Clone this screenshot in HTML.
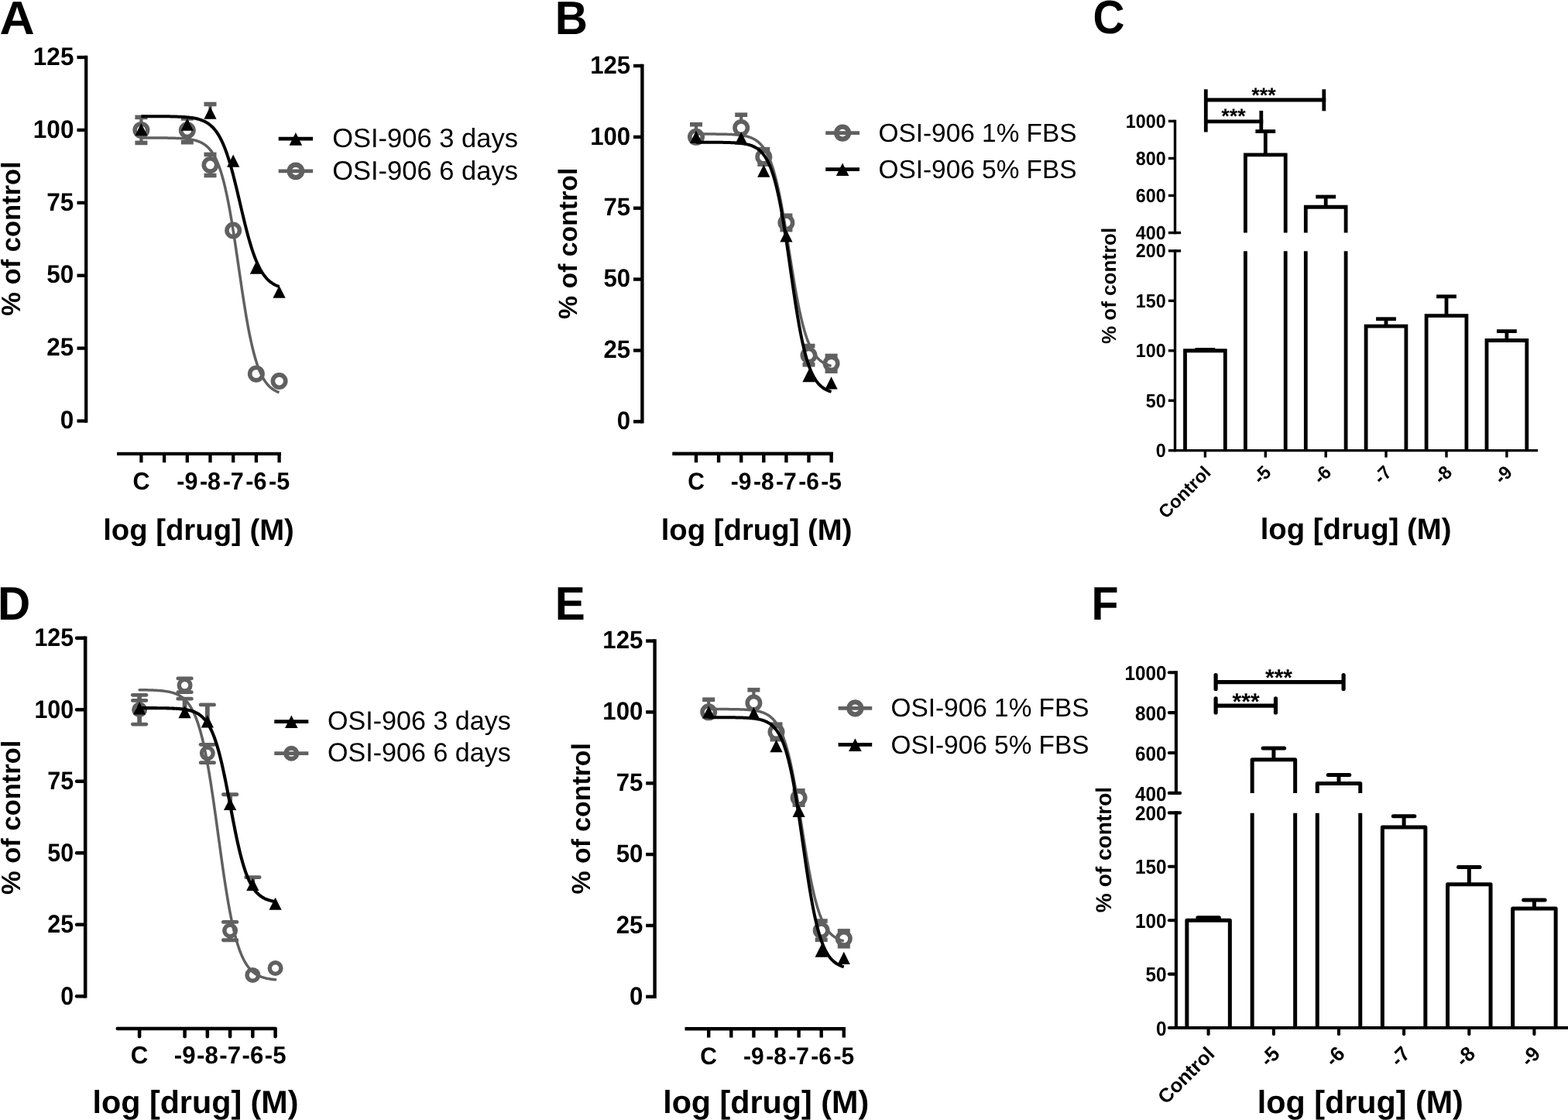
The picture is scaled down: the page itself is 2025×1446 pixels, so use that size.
<!DOCTYPE html>
<html lang="en"><head><meta charset="utf-8"><title>Figure</title>
<style>html,body{margin:0;padding:0;background:#fff;}svg{display:block;}</style></head>
<body>
<svg width="2025" height="1446" viewBox="0 0 2025 1446" font-family='"Liberation Sans", Arial, Helvetica, sans-serif' text-rendering="geometricPrecision">
<rect width="2025" height="1446" fill="#fff"/>
<line x1="111.2" y1="71.85" x2="111.2" y2="545.65" stroke="#000" stroke-width="4.3" stroke-linecap="butt"/>
<line x1="99.5" y1="543.5" x2="111.2" y2="543.5" stroke="#000" stroke-width="4.3" stroke-linecap="butt"/>
<text x="0" y="0" font-size="31.5" font-weight="bold" text-anchor="end" fill="#000" transform="translate(95.4 553.2) scale(1 1.04)">0</text>
<line x1="99.5" y1="449.6" x2="111.2" y2="449.6" stroke="#000" stroke-width="4.3" stroke-linecap="butt"/>
<text x="0" y="0" font-size="31.5" font-weight="bold" text-anchor="end" fill="#000" transform="translate(95.4 459.3) scale(1 1.04)">25</text>
<line x1="99.5" y1="355.7" x2="111.2" y2="355.7" stroke="#000" stroke-width="4.3" stroke-linecap="butt"/>
<text x="0" y="0" font-size="31.5" font-weight="bold" text-anchor="end" fill="#000" transform="translate(95.4 365.4) scale(1 1.04)">50</text>
<line x1="99.5" y1="261.8" x2="111.2" y2="261.8" stroke="#000" stroke-width="4.3" stroke-linecap="butt"/>
<text x="0" y="0" font-size="31.5" font-weight="bold" text-anchor="end" fill="#000" transform="translate(95.4 271.5) scale(1 1.04)">75</text>
<line x1="99.5" y1="167.9" x2="111.2" y2="167.9" stroke="#000" stroke-width="4.3" stroke-linecap="butt"/>
<text x="0" y="0" font-size="31.5" font-weight="bold" text-anchor="end" fill="#000" transform="translate(95.4 177.6) scale(1 1.04)">100</text>
<line x1="99.5" y1="74" x2="111.2" y2="74" stroke="#000" stroke-width="4.3" stroke-linecap="butt"/>
<text x="0" y="0" font-size="31.5" font-weight="bold" text-anchor="end" fill="#000" transform="translate(95.4 83.7) scale(1 1.04)">125</text>
<line x1="151" y1="585.8" x2="363" y2="585.8" stroke="#000" stroke-width="4.3" stroke-linecap="butt"/>
<line x1="182.4" y1="585.8" x2="182.4" y2="597.2" stroke="#000" stroke-width="4.3" stroke-linecap="butt"/>
<line x1="212.1" y1="585.8" x2="212.1" y2="597.2" stroke="#000" stroke-width="4.3" stroke-linecap="butt"/>
<line x1="241.8" y1="585.8" x2="241.8" y2="597.2" stroke="#000" stroke-width="4.3" stroke-linecap="butt"/>
<line x1="271.5" y1="585.8" x2="271.5" y2="597.2" stroke="#000" stroke-width="4.3" stroke-linecap="butt"/>
<line x1="301.2" y1="585.8" x2="301.2" y2="597.2" stroke="#000" stroke-width="4.3" stroke-linecap="butt"/>
<line x1="330.9" y1="585.8" x2="330.9" y2="597.2" stroke="#000" stroke-width="4.3" stroke-linecap="butt"/>
<line x1="360.6" y1="585.8" x2="360.6" y2="597.2" stroke="#000" stroke-width="4.3" stroke-linecap="butt"/>
<text x="0" y="0" font-size="30.5" font-weight="bold" text-anchor="middle" fill="#000" transform="translate(182.4 631.8) scale(1 1.04)">C</text>
<text x="0" y="0" font-size="30.5" font-weight="bold" text-anchor="middle" fill="#000" transform="translate(241.8 631.8) scale(1 1.04)">-9</text>
<text x="0" y="0" font-size="30.5" font-weight="bold" text-anchor="middle" fill="#000" transform="translate(271.5 631.8) scale(1 1.04)">-8</text>
<text x="0" y="0" font-size="30.5" font-weight="bold" text-anchor="middle" fill="#000" transform="translate(301.2 631.8) scale(1 1.04)">-7</text>
<text x="0" y="0" font-size="30.5" font-weight="bold" text-anchor="middle" fill="#000" transform="translate(330.9 631.8) scale(1 1.04)">-6</text>
<text x="0" y="0" font-size="30.5" font-weight="bold" text-anchor="middle" fill="#000" transform="translate(360.6 631.8) scale(1 1.04)">-5</text>
<text x="256.5" y="696.8" font-size="38.3" font-weight="bold" text-anchor="middle" fill="#000">log [drug] (M)</text>
<text x="25.8" y="308" font-size="34.5" font-weight="bold" text-anchor="middle" fill="#000" transform="rotate(-90 25.8 308)">% of control</text>
<text x="0" y="0" font-size="58.5" font-weight="bold" text-anchor="start" fill="#000" transform="translate(-0.6 43.8) scale(1.07 1.04)">A</text>
<line x1="182.4" y1="167.9" x2="182.4" y2="151.37" stroke="#606060" stroke-width="4.2" stroke-linecap="butt"/>
<line x1="174.4" y1="151.37" x2="190.4" y2="151.37" stroke="#606060" stroke-width="5.6" stroke-linecap="butt"/>
<line x1="182.4" y1="167.9" x2="182.4" y2="184.43" stroke="#606060" stroke-width="4.2" stroke-linecap="butt"/>
<line x1="174.4" y1="184.43" x2="190.4" y2="184.43" stroke="#606060" stroke-width="5.6" stroke-linecap="butt"/>
<line x1="241.8" y1="168.28" x2="241.8" y2="152.88" stroke="#606060" stroke-width="4.2" stroke-linecap="butt"/>
<line x1="233.8" y1="152.88" x2="249.8" y2="152.88" stroke="#606060" stroke-width="5.6" stroke-linecap="butt"/>
<line x1="241.8" y1="168.28" x2="241.8" y2="183.68" stroke="#606060" stroke-width="4.2" stroke-linecap="butt"/>
<line x1="233.8" y1="183.68" x2="249.8" y2="183.68" stroke="#606060" stroke-width="5.6" stroke-linecap="butt"/>
<line x1="271.5" y1="212.97" x2="271.5" y2="199.45" stroke="#606060" stroke-width="4.2" stroke-linecap="butt"/>
<line x1="263.5" y1="199.45" x2="279.5" y2="199.45" stroke="#606060" stroke-width="5.6" stroke-linecap="butt"/>
<line x1="271.5" y1="212.97" x2="271.5" y2="226.49" stroke="#606060" stroke-width="4.2" stroke-linecap="butt"/>
<line x1="263.5" y1="226.49" x2="279.5" y2="226.49" stroke="#606060" stroke-width="5.6" stroke-linecap="butt"/>
<line x1="271.5" y1="145.74" x2="271.5" y2="134.47" stroke="#606060" stroke-width="4.2" stroke-linecap="butt"/>
<line x1="263.5" y1="134.47" x2="279.5" y2="134.47" stroke="#606060" stroke-width="5.6" stroke-linecap="butt"/>
<circle cx="182.4" cy="167.9" r="8.2" fill="#fff" stroke="#606060" stroke-width="5.6"/>
<circle cx="241.8" cy="168.28" r="8.2" fill="#fff" stroke="#606060" stroke-width="5.6"/>
<circle cx="271.5" cy="212.97" r="8.2" fill="#fff" stroke="#606060" stroke-width="5.6"/>
<circle cx="301.2" cy="297.48" r="8.2" fill="#fff" stroke="#606060" stroke-width="5.6"/>
<circle cx="330.9" cy="482.65" r="8.2" fill="#fff" stroke="#606060" stroke-width="5.6"/>
<circle cx="360.6" cy="492.04" r="8.2" fill="#fff" stroke="#606060" stroke-width="5.6"/>
<path d="M182.4 177.96 L183.52 177.96 L184.64 177.97 L185.76 177.97 L186.88 177.97 L188 177.97 L189.12 177.97 L190.25 177.97 L191.37 177.97 L192.49 177.98 L193.61 177.98 L194.73 177.98 L195.85 177.98 L196.97 177.99 L198.09 177.99 L199.21 177.99 L200.33 178 L201.45 178 L202.57 178.01 L203.69 178.01 L204.82 178.02 L205.94 178.03 L207.06 178.03 L208.18 178.04 L209.3 178.05 L210.42 178.06 L211.54 178.07 L212.66 178.08 L213.78 178.09 L214.9 178.11 L216.02 178.12 L217.14 178.14 L218.26 178.15 L219.38 178.17 L220.51 178.2 L221.63 178.22 L222.75 178.24 L223.87 178.27 L224.99 178.3 L226.11 178.34 L227.23 178.38 L228.35 178.42 L229.47 178.46 L230.59 178.51 L231.71 178.56 L232.83 178.62 L233.95 178.69 L235.08 178.76 L236.2 178.84 L237.32 178.92 L238.44 179.02 L239.56 179.12 L240.68 179.23 L241.8 179.35 L242.92 179.49 L244.04 179.64 L245.16 179.8 L246.28 179.97 L247.4 180.17 L248.52 180.38 L249.65 180.61 L250.77 180.87 L251.89 181.15 L253.01 181.46 L254.13 181.79 L255.25 182.16 L256.37 182.56 L257.49 183 L258.61 183.48 L259.73 184 L260.85 184.57 L261.97 185.2 L263.09 185.88 L264.22 186.63 L265.34 187.45 L266.46 188.34 L267.58 189.31 L268.7 190.36 L269.82 191.52 L270.94 192.77 L272.06 194.13 L273.18 195.61 L274.3 197.22 L275.42 198.97 L276.54 200.86 L277.66 202.91 L278.78 205.13 L279.91 207.52 L281.03 210.11 L282.15 212.89 L283.27 215.89 L284.39 219.1 L285.51 222.55 L286.63 226.23 L287.75 230.17 L288.87 234.37 L289.99 238.83 L291.11 243.55 L292.23 248.55 L293.35 253.83 L294.48 259.37 L295.6 265.18 L296.72 271.26 L297.84 277.58 L298.96 284.14 L300.08 290.93 L301.2 297.92 L302.32 305.1 L303.44 312.43 L304.56 319.89 L305.68 327.46 L306.8 335.1 L307.92 342.78 L309.05 350.46 L310.17 358.12 L311.29 365.73 L312.41 373.24 L313.53 380.64 L314.65 387.88 L315.77 394.96 L316.89 401.84 L318.01 408.51 L319.13 414.95 L320.25 421.13 L321.37 427.07 L322.49 432.73 L323.62 438.13 L324.74 443.25 L325.86 448.1 L326.98 452.69 L328.1 457 L329.22 461.05 L330.34 464.85 L331.46 468.41 L332.58 471.73 L333.7 474.82 L334.82 477.7 L335.94 480.37 L337.06 482.85 L338.18 485.15 L339.31 487.27 L340.43 489.23 L341.55 491.05 L342.67 492.72 L343.79 494.25 L344.91 495.67 L346.03 496.97 L347.15 498.17 L348.27 499.27 L349.39 500.28 L350.51 501.2 L351.63 502.05 L352.75 502.83 L353.88 503.54 L355 504.19 L356.12 504.79 L357.24 505.34 L358.36 505.84 L359.48 506.29 L360.6 506.71" fill="none" stroke="#606060" stroke-width="3.5" stroke-linecap="butt" stroke-linejoin="round"/>
<polygon points="182.4,159.05 174.3,175.25 190.5,175.25" fill="#000"/>
<polygon points="241.8,152.66 233.7,168.86 249.9,168.86" fill="#000"/>
<polygon points="271.5,137.64 263.4,153.84 279.6,153.84" fill="#000"/>
<polygon points="301.2,199.61 293.1,215.81 309.3,215.81" fill="#000"/>
<polygon points="330.9,337.46 322.8,353.66 339,353.66" fill="#000"/>
<polygon points="360.6,368.63 352.5,384.83 368.7,384.83" fill="#000"/>
<path d="M182.4 150.16 L183.52 150.16 L184.64 150.16 L185.76 150.16 L186.88 150.16 L188 150.16 L189.12 150.17 L190.25 150.17 L191.37 150.17 L192.49 150.17 L193.61 150.17 L194.73 150.18 L195.85 150.18 L196.97 150.18 L198.09 150.19 L199.21 150.19 L200.33 150.2 L201.45 150.2 L202.57 150.21 L203.69 150.21 L204.82 150.22 L205.94 150.22 L207.06 150.23 L208.18 150.24 L209.3 150.25 L210.42 150.26 L211.54 150.27 L212.66 150.28 L213.78 150.29 L214.9 150.3 L216.02 150.32 L217.14 150.33 L218.26 150.35 L219.38 150.37 L220.51 150.39 L221.63 150.41 L222.75 150.43 L223.87 150.46 L224.99 150.49 L226.11 150.52 L227.23 150.55 L228.35 150.59 L229.47 150.63 L230.59 150.67 L231.71 150.72 L232.83 150.77 L233.95 150.82 L235.08 150.88 L236.2 150.95 L237.32 151.02 L238.44 151.1 L239.56 151.19 L240.68 151.28 L241.8 151.38 L242.92 151.49 L244.04 151.61 L245.16 151.74 L246.28 151.88 L247.4 152.03 L248.52 152.2 L249.65 152.38 L250.77 152.58 L251.89 152.79 L253.01 153.02 L254.13 153.28 L255.25 153.55 L256.37 153.85 L257.49 154.17 L258.61 154.53 L259.73 154.91 L260.85 155.33 L261.97 155.78 L263.09 156.26 L264.22 156.79 L265.34 157.37 L266.46 157.99 L267.58 158.66 L268.7 159.39 L269.82 160.18 L270.94 161.03 L272.06 161.95 L273.18 162.94 L274.3 164.01 L275.42 165.16 L276.54 166.41 L277.66 167.74 L278.78 169.18 L279.91 170.72 L281.03 172.37 L282.15 174.14 L283.27 176.03 L284.39 178.06 L285.51 180.21 L286.63 182.5 L287.75 184.94 L288.87 187.53 L289.99 190.27 L291.11 193.16 L292.23 196.21 L293.35 199.41 L294.48 202.77 L295.6 206.29 L296.72 209.97 L297.84 213.79 L298.96 217.75 L300.08 221.86 L301.2 226.09 L302.32 230.44 L303.44 234.89 L304.56 239.44 L305.68 244.08 L306.8 248.77 L307.92 253.52 L309.05 258.29 L310.17 263.09 L311.29 267.88 L312.41 272.65 L313.53 277.38 L314.65 282.06 L315.77 286.67 L316.89 291.2 L318.01 295.63 L319.13 299.95 L320.25 304.15 L321.37 308.21 L322.49 312.14 L323.62 315.92 L324.74 319.55 L325.86 323.03 L326.98 326.35 L328.1 329.51 L329.22 332.52 L330.34 335.37 L331.46 338.06 L332.58 340.61 L333.7 343.01 L334.82 345.26 L335.94 347.38 L337.06 349.37 L338.18 351.23 L339.31 352.97 L340.43 354.59 L341.55 356.1 L342.67 357.51 L343.79 358.82 L344.91 360.04 L346.03 361.17 L347.15 362.22 L348.27 363.19 L349.39 364.09 L350.51 364.92 L351.63 365.69 L352.75 366.41 L353.88 367.06 L355 367.67 L356.12 368.23 L357.24 368.75 L358.36 369.23 L359.48 369.67 L360.6 370.08" fill="none" stroke="#000" stroke-width="4" stroke-linecap="butt" stroke-linejoin="round"/>
<line x1="359.7" y1="179.2" x2="404.1" y2="179.2" stroke="#000" stroke-width="4.8" stroke-linecap="butt"/>
<polygon points="381.9,171.1 373.6,187.7 390.2,187.7" fill="#000"/>
<text x="429.2" y="190.3" font-size="34.5" font-weight="normal" text-anchor="start" fill="#000" textLength="239.7" lengthAdjust="spacingAndGlyphs">OSI-906 3 days</text>
<line x1="359.7" y1="220.9" x2="404.1" y2="220.9" stroke="#606060" stroke-width="4.8" stroke-linecap="butt"/>
<circle cx="381.9" cy="220.9" r="8.2" fill="#fff" stroke="#606060" stroke-width="6.4"/>
<line x1="376.3" y1="220.9" x2="387.5" y2="220.9" stroke="#606060" stroke-width="4.8" stroke-linecap="butt"/>
<text x="429.2" y="232.3" font-size="34.5" font-weight="normal" text-anchor="start" fill="#000" textLength="239.7" lengthAdjust="spacingAndGlyphs">OSI-906 6 days</text>
<line x1="829.4" y1="82.8" x2="829.4" y2="546.5" stroke="#000" stroke-width="4.4" stroke-linecap="butt"/>
<line x1="818" y1="544.3" x2="829.4" y2="544.3" stroke="#000" stroke-width="4.4" stroke-linecap="butt"/>
<text x="0" y="0" font-size="31.2" font-weight="bold" text-anchor="end" fill="#000" transform="translate(814.2 554) scale(1 1.04)">0</text>
<line x1="818" y1="452.44" x2="829.4" y2="452.44" stroke="#000" stroke-width="4.4" stroke-linecap="butt"/>
<text x="0" y="0" font-size="31.2" font-weight="bold" text-anchor="end" fill="#000" transform="translate(814.2 462.14) scale(1 1.04)">25</text>
<line x1="818" y1="360.58" x2="829.4" y2="360.58" stroke="#000" stroke-width="4.4" stroke-linecap="butt"/>
<text x="0" y="0" font-size="31.2" font-weight="bold" text-anchor="end" fill="#000" transform="translate(814.2 370.28) scale(1 1.04)">50</text>
<line x1="818" y1="268.72" x2="829.4" y2="268.72" stroke="#000" stroke-width="4.4" stroke-linecap="butt"/>
<text x="0" y="0" font-size="31.2" font-weight="bold" text-anchor="end" fill="#000" transform="translate(814.2 278.42) scale(1 1.04)">75</text>
<line x1="818" y1="176.86" x2="829.4" y2="176.86" stroke="#000" stroke-width="4.4" stroke-linecap="butt"/>
<text x="0" y="0" font-size="31.2" font-weight="bold" text-anchor="end" fill="#000" transform="translate(814.2 186.56) scale(1 1.04)">100</text>
<line x1="818" y1="85" x2="829.4" y2="85" stroke="#000" stroke-width="4.4" stroke-linecap="butt"/>
<text x="0" y="0" font-size="31.2" font-weight="bold" text-anchor="end" fill="#000" transform="translate(814.2 94.7) scale(1 1.04)">125</text>
<line x1="868.3" y1="585.8" x2="1076" y2="585.8" stroke="#000" stroke-width="4.4" stroke-linecap="butt"/>
<line x1="899" y1="585.8" x2="899" y2="597.2" stroke="#000" stroke-width="4.4" stroke-linecap="butt"/>
<line x1="928.1" y1="585.8" x2="928.1" y2="597.2" stroke="#000" stroke-width="4.4" stroke-linecap="butt"/>
<line x1="957.2" y1="585.8" x2="957.2" y2="597.2" stroke="#000" stroke-width="4.4" stroke-linecap="butt"/>
<line x1="986.3" y1="585.8" x2="986.3" y2="597.2" stroke="#000" stroke-width="4.4" stroke-linecap="butt"/>
<line x1="1015.4" y1="585.8" x2="1015.4" y2="597.2" stroke="#000" stroke-width="4.4" stroke-linecap="butt"/>
<line x1="1044.5" y1="585.8" x2="1044.5" y2="597.2" stroke="#000" stroke-width="4.4" stroke-linecap="butt"/>
<line x1="1073.6" y1="585.8" x2="1073.6" y2="597.2" stroke="#000" stroke-width="4.4" stroke-linecap="butt"/>
<text x="0" y="0" font-size="30" font-weight="bold" text-anchor="middle" fill="#000" transform="translate(899 631.9) scale(1 1.04)">C</text>
<text x="0" y="0" font-size="30" font-weight="bold" text-anchor="middle" fill="#000" transform="translate(957.2 631.9) scale(1 1.04)">-9</text>
<text x="0" y="0" font-size="30" font-weight="bold" text-anchor="middle" fill="#000" transform="translate(986.3 631.9) scale(1 1.04)">-8</text>
<text x="0" y="0" font-size="30" font-weight="bold" text-anchor="middle" fill="#000" transform="translate(1015.4 631.9) scale(1 1.04)">-7</text>
<text x="0" y="0" font-size="30" font-weight="bold" text-anchor="middle" fill="#000" transform="translate(1044.5 631.9) scale(1 1.04)">-6</text>
<text x="0" y="0" font-size="30" font-weight="bold" text-anchor="middle" fill="#000" transform="translate(1073.6 631.9) scale(1 1.04)">-5</text>
<text x="977.1" y="696.8" font-size="38.3" font-weight="bold" text-anchor="middle" fill="#000">log [drug] (M)</text>
<text x="745.5" y="314.3" font-size="33.8" font-weight="bold" text-anchor="middle" fill="#000" transform="rotate(-90 745.5 314.3)">% of control</text>
<text x="0" y="0" font-size="58.5" font-weight="bold" text-anchor="start" fill="#000" transform="translate(716.7 43.8) scale(1 1.04)">B</text>
<line x1="899" y1="176.86" x2="899" y2="160.69" stroke="#606060" stroke-width="4.2" stroke-linecap="butt"/>
<line x1="891" y1="160.69" x2="907" y2="160.69" stroke="#606060" stroke-width="5.6" stroke-linecap="butt"/>
<line x1="957.2" y1="165.1" x2="957.2" y2="148.2" stroke="#606060" stroke-width="4.2" stroke-linecap="butt"/>
<line x1="949.2" y1="148.2" x2="965.2" y2="148.2" stroke="#606060" stroke-width="5.6" stroke-linecap="butt"/>
<line x1="986.3" y1="202.58" x2="986.3" y2="192.66" stroke="#606060" stroke-width="4.2" stroke-linecap="butt"/>
<line x1="978.3" y1="192.66" x2="994.3" y2="192.66" stroke="#606060" stroke-width="5.6" stroke-linecap="butt"/>
<line x1="986.3" y1="202.58" x2="986.3" y2="212.13" stroke="#606060" stroke-width="4.2" stroke-linecap="butt"/>
<line x1="978.3" y1="212.13" x2="994.3" y2="212.13" stroke="#606060" stroke-width="5.6" stroke-linecap="butt"/>
<line x1="1015.4" y1="287.46" x2="1015.4" y2="278.27" stroke="#606060" stroke-width="4.2" stroke-linecap="butt"/>
<line x1="1007.4" y1="278.27" x2="1023.4" y2="278.27" stroke="#606060" stroke-width="5.6" stroke-linecap="butt"/>
<line x1="1015.4" y1="287.46" x2="1015.4" y2="296.65" stroke="#606060" stroke-width="4.2" stroke-linecap="butt"/>
<line x1="1007.4" y1="296.65" x2="1023.4" y2="296.65" stroke="#606060" stroke-width="5.6" stroke-linecap="butt"/>
<line x1="1044.5" y1="458.69" x2="1044.5" y2="446.56" stroke="#606060" stroke-width="4.2" stroke-linecap="butt"/>
<line x1="1036.5" y1="446.56" x2="1052.5" y2="446.56" stroke="#606060" stroke-width="5.6" stroke-linecap="butt"/>
<line x1="1044.5" y1="458.69" x2="1044.5" y2="470.81" stroke="#606060" stroke-width="4.2" stroke-linecap="butt"/>
<line x1="1036.5" y1="470.81" x2="1052.5" y2="470.81" stroke="#606060" stroke-width="5.6" stroke-linecap="butt"/>
<line x1="1073.6" y1="469.34" x2="1073.6" y2="459.42" stroke="#606060" stroke-width="4.2" stroke-linecap="butt"/>
<line x1="1065.6" y1="459.42" x2="1081.6" y2="459.42" stroke="#606060" stroke-width="5.6" stroke-linecap="butt"/>
<line x1="1073.6" y1="469.34" x2="1073.6" y2="479.26" stroke="#606060" stroke-width="4.2" stroke-linecap="butt"/>
<line x1="1065.6" y1="479.26" x2="1081.6" y2="479.26" stroke="#606060" stroke-width="5.6" stroke-linecap="butt"/>
<circle cx="899" cy="176.86" r="8.2" fill="#fff" stroke="#606060" stroke-width="5.6"/>
<circle cx="957.2" cy="165.1" r="8.2" fill="#fff" stroke="#606060" stroke-width="5.6"/>
<circle cx="986.3" cy="202.58" r="8.2" fill="#fff" stroke="#606060" stroke-width="5.6"/>
<circle cx="1015.4" cy="287.46" r="8.2" fill="#fff" stroke="#606060" stroke-width="5.6"/>
<circle cx="1044.5" cy="458.69" r="8.2" fill="#fff" stroke="#606060" stroke-width="5.6"/>
<circle cx="1073.6" cy="469.34" r="8.2" fill="#fff" stroke="#606060" stroke-width="5.6"/>
<path d="M899 173.02 L900.1 173.02 L901.2 173.03 L902.29 173.03 L903.39 173.03 L904.49 173.03 L905.59 173.03 L906.69 173.03 L907.78 173.04 L908.88 173.04 L909.98 173.04 L911.08 173.05 L912.18 173.05 L913.28 173.05 L914.37 173.06 L915.47 173.06 L916.57 173.07 L917.67 173.07 L918.77 173.08 L919.86 173.08 L920.96 173.09 L922.06 173.1 L923.16 173.11 L924.26 173.12 L925.35 173.13 L926.45 173.14 L927.55 173.15 L928.65 173.16 L929.75 173.18 L930.85 173.19 L931.94 173.21 L933.04 173.23 L934.14 173.25 L935.24 173.28 L936.34 173.3 L937.43 173.33 L938.53 173.36 L939.63 173.39 L940.73 173.43 L941.83 173.47 L942.92 173.52 L944.02 173.57 L945.12 173.62 L946.22 173.68 L947.32 173.74 L948.42 173.81 L949.51 173.89 L950.61 173.97 L951.71 174.07 L952.81 174.17 L953.91 174.28 L955 174.4 L956.1 174.53 L957.2 174.68 L958.3 174.84 L959.4 175.01 L960.49 175.21 L961.59 175.42 L962.69 175.65 L963.79 175.9 L964.89 176.17 L965.98 176.47 L967.08 176.8 L968.18 177.17 L969.28 177.56 L970.38 177.99 L971.48 178.46 L972.57 178.98 L973.67 179.54 L974.77 180.16 L975.87 180.83 L976.97 181.56 L978.06 182.36 L979.16 183.23 L980.26 184.18 L981.36 185.21 L982.46 186.34 L983.55 187.56 L984.65 188.89 L985.75 190.33 L986.85 191.9 L987.95 193.59 L989.05 195.43 L990.14 197.42 L991.24 199.57 L992.34 201.88 L993.44 204.38 L994.54 207.06 L995.63 209.95 L996.73 213.04 L997.83 216.34 L998.93 219.87 L1000.03 223.64 L1001.12 227.64 L1002.22 231.88 L1003.32 236.37 L1004.42 241.1 L1005.52 246.08 L1006.62 251.3 L1007.71 256.76 L1008.81 262.45 L1009.91 268.36 L1011.01 274.47 L1012.11 280.77 L1013.2 287.23 L1014.3 293.85 L1015.4 300.59 L1016.5 307.43 L1017.6 314.33 L1018.69 321.28 L1019.79 328.24 L1020.89 335.19 L1021.99 342.09 L1023.09 348.91 L1024.18 355.64 L1025.28 362.24 L1026.38 368.68 L1027.48 374.96 L1028.58 381.04 L1029.68 386.92 L1030.77 392.58 L1031.87 398.01 L1032.97 403.2 L1034.07 408.15 L1035.17 412.85 L1036.26 417.3 L1037.36 421.51 L1038.46 425.48 L1039.56 429.21 L1040.66 432.71 L1041.75 435.99 L1042.85 439.05 L1043.95 441.91 L1045.05 444.57 L1046.15 447.04 L1047.25 449.33 L1048.34 451.46 L1049.44 453.42 L1050.54 455.24 L1051.64 456.92 L1052.74 458.47 L1053.83 459.9 L1054.93 461.21 L1056.03 462.42 L1057.13 463.53 L1058.23 464.56 L1059.32 465.49 L1060.42 466.35 L1061.52 467.14 L1062.62 467.87 L1063.72 468.53 L1064.82 469.14 L1065.91 469.7 L1067.01 470.21 L1068.11 470.67 L1069.21 471.1 L1070.31 471.49 L1071.4 471.84 L1072.5 472.17 L1073.6 472.47" fill="none" stroke="#606060" stroke-width="3.5" stroke-linecap="butt" stroke-linejoin="round"/>
<polygon points="899,168.76 890.9,184.96 907.1,184.96" fill="#000"/>
<polygon points="957.2,170.23 949.1,186.43 965.3,186.43" fill="#000"/>
<polygon points="986.3,212.49 978.2,228.69 994.4,228.69" fill="#000"/>
<polygon points="1015.4,296.26 1007.3,312.46 1023.5,312.46" fill="#000"/>
<polygon points="1044.5,477.04 1036.4,493.24 1052.6,493.24" fill="#000"/>
<polygon points="1073.6,486.23 1065.5,502.43 1081.7,502.43" fill="#000"/>
<path d="M899 183.7 L900.1 183.7 L901.2 183.7 L902.29 183.7 L903.39 183.71 L904.49 183.71 L905.59 183.71 L906.69 183.71 L907.78 183.71 L908.88 183.71 L909.98 183.72 L911.08 183.72 L912.18 183.72 L913.28 183.72 L914.37 183.73 L915.47 183.73 L916.57 183.73 L917.67 183.74 L918.77 183.74 L919.86 183.75 L920.96 183.75 L922.06 183.76 L923.16 183.77 L924.26 183.77 L925.35 183.78 L926.45 183.79 L927.55 183.8 L928.65 183.81 L929.75 183.82 L930.85 183.84 L931.94 183.85 L933.04 183.87 L934.14 183.88 L935.24 183.9 L936.34 183.92 L937.43 183.95 L938.53 183.97 L939.63 184 L940.73 184.03 L941.83 184.06 L942.92 184.1 L944.02 184.14 L945.12 184.19 L946.22 184.24 L947.32 184.29 L948.42 184.35 L949.51 184.41 L950.61 184.48 L951.71 184.56 L952.81 184.65 L953.91 184.74 L955 184.85 L956.1 184.96 L957.2 185.08 L958.3 185.22 L959.4 185.37 L960.49 185.54 L961.59 185.72 L962.69 185.92 L963.79 186.13 L964.89 186.37 L965.98 186.64 L967.08 186.93 L968.18 187.24 L969.28 187.59 L970.38 187.97 L971.48 188.38 L972.57 188.84 L973.67 189.34 L974.77 189.89 L975.87 190.49 L976.97 191.15 L978.06 191.86 L979.16 192.65 L980.26 193.51 L981.36 194.45 L982.46 195.47 L983.55 196.59 L984.65 197.81 L985.75 199.14 L986.85 200.59 L987.95 202.16 L989.05 203.88 L990.14 205.74 L991.24 207.75 L992.34 209.94 L993.44 212.31 L994.54 214.87 L995.63 217.63 L996.73 220.6 L997.83 223.8 L998.93 227.23 L1000.03 230.91 L1001.12 234.85 L1002.22 239.05 L1003.32 243.51 L1004.42 248.25 L1005.52 253.27 L1006.62 258.57 L1007.71 264.14 L1008.81 269.98 L1009.91 276.09 L1011.01 282.45 L1012.11 289.06 L1013.2 295.88 L1014.3 302.91 L1015.4 310.12 L1016.5 317.48 L1017.6 324.96 L1018.69 332.54 L1019.79 340.18 L1020.89 347.85 L1021.99 355.51 L1023.09 363.13 L1024.18 370.68 L1025.28 378.12 L1026.38 385.43 L1027.48 392.58 L1028.58 399.53 L1029.68 406.28 L1030.77 412.79 L1031.87 419.06 L1032.97 425.08 L1034.07 430.82 L1035.17 436.29 L1036.26 441.48 L1037.36 446.4 L1038.46 451.04 L1039.56 455.4 L1040.66 459.5 L1041.75 463.34 L1042.85 466.93 L1043.95 470.28 L1045.05 473.39 L1046.15 476.28 L1047.25 478.97 L1048.34 481.45 L1049.44 483.75 L1050.54 485.88 L1051.64 487.83 L1052.74 489.64 L1053.83 491.3 L1054.93 492.83 L1056.03 494.23 L1057.13 495.52 L1058.23 496.7 L1059.32 497.78 L1060.42 498.77 L1061.52 499.68 L1062.62 500.51 L1063.72 501.27 L1064.82 501.97 L1065.91 502.6 L1067.01 503.18 L1068.11 503.71 L1069.21 504.2 L1070.31 504.64 L1071.4 505.04 L1072.5 505.41 L1073.6 505.74" fill="none" stroke="#000" stroke-width="4" stroke-linecap="butt" stroke-linejoin="round"/>
<line x1="1066.2" y1="171.6" x2="1110" y2="171.6" stroke="#606060" stroke-width="4.8" stroke-linecap="butt"/>
<circle cx="1088.1" cy="171.6" r="8" fill="#fff" stroke="#606060" stroke-width="6.2"/>
<line x1="1082.5" y1="171.6" x2="1093.7" y2="171.6" stroke="#606060" stroke-width="4.8" stroke-linecap="butt"/>
<text x="1134.5" y="182.8" font-size="33.4" font-weight="normal" text-anchor="start" fill="#000" textLength="256" lengthAdjust="spacingAndGlyphs">OSI-906 1% FBS</text>
<line x1="1066.2" y1="218.6" x2="1110" y2="218.6" stroke="#000" stroke-width="4.8" stroke-linecap="butt"/>
<polygon points="1088.1,210.5 1079.8,227.1 1096.4,227.1" fill="#000"/>
<text x="1134.5" y="230.2" font-size="33.4" font-weight="normal" text-anchor="start" fill="#000" textLength="256" lengthAdjust="spacingAndGlyphs">OSI-906 5% FBS</text>
<line x1="845.6" y1="825.3" x2="845.6" y2="1289" stroke="#000" stroke-width="4.4" stroke-linecap="butt"/>
<line x1="834.2" y1="1286.8" x2="845.6" y2="1286.8" stroke="#000" stroke-width="4.4" stroke-linecap="butt"/>
<text x="0" y="0" font-size="31.2" font-weight="bold" text-anchor="end" fill="#000" transform="translate(830.4 1296.5) scale(1 1.04)">0</text>
<line x1="834.2" y1="1194.94" x2="845.6" y2="1194.94" stroke="#000" stroke-width="4.4" stroke-linecap="butt"/>
<text x="0" y="0" font-size="31.2" font-weight="bold" text-anchor="end" fill="#000" transform="translate(830.4 1204.64) scale(1 1.04)">25</text>
<line x1="834.2" y1="1103.08" x2="845.6" y2="1103.08" stroke="#000" stroke-width="4.4" stroke-linecap="butt"/>
<text x="0" y="0" font-size="31.2" font-weight="bold" text-anchor="end" fill="#000" transform="translate(830.4 1112.78) scale(1 1.04)">50</text>
<line x1="834.2" y1="1011.22" x2="845.6" y2="1011.22" stroke="#000" stroke-width="4.4" stroke-linecap="butt"/>
<text x="0" y="0" font-size="31.2" font-weight="bold" text-anchor="end" fill="#000" transform="translate(830.4 1020.92) scale(1 1.04)">75</text>
<line x1="834.2" y1="919.36" x2="845.6" y2="919.36" stroke="#000" stroke-width="4.4" stroke-linecap="butt"/>
<text x="0" y="0" font-size="31.2" font-weight="bold" text-anchor="end" fill="#000" transform="translate(830.4 929.06) scale(1 1.04)">100</text>
<line x1="834.2" y1="827.5" x2="845.6" y2="827.5" stroke="#000" stroke-width="4.4" stroke-linecap="butt"/>
<text x="0" y="0" font-size="31.2" font-weight="bold" text-anchor="end" fill="#000" transform="translate(830.4 837.2) scale(1 1.04)">125</text>
<line x1="884.5" y1="1328.2" x2="1092" y2="1328.2" stroke="#000" stroke-width="4.4" stroke-linecap="butt"/>
<line x1="915.2" y1="1328.2" x2="915.2" y2="1339.6" stroke="#000" stroke-width="4.4" stroke-linecap="butt"/>
<line x1="944.3" y1="1328.2" x2="944.3" y2="1339.6" stroke="#000" stroke-width="4.4" stroke-linecap="butt"/>
<line x1="973.4" y1="1328.2" x2="973.4" y2="1339.6" stroke="#000" stroke-width="4.4" stroke-linecap="butt"/>
<line x1="1002.5" y1="1328.2" x2="1002.5" y2="1339.6" stroke="#000" stroke-width="4.4" stroke-linecap="butt"/>
<line x1="1031.6" y1="1328.2" x2="1031.6" y2="1339.6" stroke="#000" stroke-width="4.4" stroke-linecap="butt"/>
<line x1="1060.7" y1="1328.2" x2="1060.7" y2="1339.6" stroke="#000" stroke-width="4.4" stroke-linecap="butt"/>
<line x1="1089.8" y1="1328.2" x2="1089.8" y2="1339.6" stroke="#000" stroke-width="4.4" stroke-linecap="butt"/>
<text x="0" y="0" font-size="30" font-weight="bold" text-anchor="middle" fill="#000" transform="translate(915.2 1373.6) scale(1 1.04)">C</text>
<text x="0" y="0" font-size="30" font-weight="bold" text-anchor="middle" fill="#000" transform="translate(973.4 1373.6) scale(1 1.04)">-9</text>
<text x="0" y="0" font-size="30" font-weight="bold" text-anchor="middle" fill="#000" transform="translate(1002.5 1373.6) scale(1 1.04)">-8</text>
<text x="0" y="0" font-size="30" font-weight="bold" text-anchor="middle" fill="#000" transform="translate(1031.6 1373.6) scale(1 1.04)">-7</text>
<text x="0" y="0" font-size="30" font-weight="bold" text-anchor="middle" fill="#000" transform="translate(1060.7 1373.6) scale(1 1.04)">-6</text>
<text x="0" y="0" font-size="30" font-weight="bold" text-anchor="middle" fill="#000" transform="translate(1089.8 1373.6) scale(1 1.04)">-5</text>
<text x="989.2" y="1437" font-size="41.3" font-weight="bold" text-anchor="middle" fill="#000">log [drug] (M)</text>
<text x="761.7" y="1056.8" font-size="33.8" font-weight="bold" text-anchor="middle" fill="#000" transform="rotate(-90 761.7 1056.8)">% of control</text>
<text x="0" y="0" font-size="58.5" font-weight="bold" text-anchor="start" fill="#000" transform="translate(716.7 800) scale(1 1.04)">E</text>
<line x1="915.2" y1="919.36" x2="915.2" y2="903.19" stroke="#606060" stroke-width="4.2" stroke-linecap="butt"/>
<line x1="907.2" y1="903.19" x2="923.2" y2="903.19" stroke="#606060" stroke-width="5.6" stroke-linecap="butt"/>
<line x1="973.4" y1="907.6" x2="973.4" y2="890.7" stroke="#606060" stroke-width="4.2" stroke-linecap="butt"/>
<line x1="965.4" y1="890.7" x2="981.4" y2="890.7" stroke="#606060" stroke-width="5.6" stroke-linecap="butt"/>
<line x1="1002.5" y1="945.08" x2="1002.5" y2="935.16" stroke="#606060" stroke-width="4.2" stroke-linecap="butt"/>
<line x1="994.5" y1="935.16" x2="1010.5" y2="935.16" stroke="#606060" stroke-width="5.6" stroke-linecap="butt"/>
<line x1="1002.5" y1="945.08" x2="1002.5" y2="954.63" stroke="#606060" stroke-width="4.2" stroke-linecap="butt"/>
<line x1="994.5" y1="954.63" x2="1010.5" y2="954.63" stroke="#606060" stroke-width="5.6" stroke-linecap="butt"/>
<line x1="1031.6" y1="1029.96" x2="1031.6" y2="1020.77" stroke="#606060" stroke-width="4.2" stroke-linecap="butt"/>
<line x1="1023.6" y1="1020.77" x2="1039.6" y2="1020.77" stroke="#606060" stroke-width="5.6" stroke-linecap="butt"/>
<line x1="1031.6" y1="1029.96" x2="1031.6" y2="1039.15" stroke="#606060" stroke-width="4.2" stroke-linecap="butt"/>
<line x1="1023.6" y1="1039.15" x2="1039.6" y2="1039.15" stroke="#606060" stroke-width="5.6" stroke-linecap="butt"/>
<line x1="1060.7" y1="1201.19" x2="1060.7" y2="1189.06" stroke="#606060" stroke-width="4.2" stroke-linecap="butt"/>
<line x1="1052.7" y1="1189.06" x2="1068.7" y2="1189.06" stroke="#606060" stroke-width="5.6" stroke-linecap="butt"/>
<line x1="1060.7" y1="1201.19" x2="1060.7" y2="1213.31" stroke="#606060" stroke-width="4.2" stroke-linecap="butt"/>
<line x1="1052.7" y1="1213.31" x2="1068.7" y2="1213.31" stroke="#606060" stroke-width="5.6" stroke-linecap="butt"/>
<line x1="1089.8" y1="1211.84" x2="1089.8" y2="1201.92" stroke="#606060" stroke-width="4.2" stroke-linecap="butt"/>
<line x1="1081.8" y1="1201.92" x2="1097.8" y2="1201.92" stroke="#606060" stroke-width="5.6" stroke-linecap="butt"/>
<line x1="1089.8" y1="1211.84" x2="1089.8" y2="1221.76" stroke="#606060" stroke-width="4.2" stroke-linecap="butt"/>
<line x1="1081.8" y1="1221.76" x2="1097.8" y2="1221.76" stroke="#606060" stroke-width="5.6" stroke-linecap="butt"/>
<circle cx="915.2" cy="919.36" r="8.2" fill="#fff" stroke="#606060" stroke-width="5.6"/>
<circle cx="973.4" cy="907.6" r="8.2" fill="#fff" stroke="#606060" stroke-width="5.6"/>
<circle cx="1002.5" cy="945.08" r="8.2" fill="#fff" stroke="#606060" stroke-width="5.6"/>
<circle cx="1031.6" cy="1029.96" r="8.2" fill="#fff" stroke="#606060" stroke-width="5.6"/>
<circle cx="1060.7" cy="1201.19" r="8.2" fill="#fff" stroke="#606060" stroke-width="5.6"/>
<circle cx="1089.8" cy="1211.84" r="8.2" fill="#fff" stroke="#606060" stroke-width="5.6"/>
<path d="M915.2 915.52 L916.3 915.52 L917.4 915.53 L918.49 915.53 L919.59 915.53 L920.69 915.53 L921.79 915.53 L922.89 915.53 L923.98 915.54 L925.08 915.54 L926.18 915.54 L927.28 915.55 L928.38 915.55 L929.48 915.55 L930.57 915.56 L931.67 915.56 L932.77 915.57 L933.87 915.57 L934.97 915.58 L936.06 915.58 L937.16 915.59 L938.26 915.6 L939.36 915.61 L940.46 915.62 L941.55 915.63 L942.65 915.64 L943.75 915.65 L944.85 915.66 L945.95 915.68 L947.05 915.69 L948.14 915.71 L949.24 915.73 L950.34 915.75 L951.44 915.78 L952.54 915.8 L953.63 915.83 L954.73 915.86 L955.83 915.89 L956.93 915.93 L958.03 915.97 L959.12 916.02 L960.22 916.07 L961.32 916.12 L962.42 916.18 L963.52 916.24 L964.62 916.31 L965.71 916.39 L966.81 916.47 L967.91 916.57 L969.01 916.67 L970.11 916.78 L971.2 916.9 L972.3 917.03 L973.4 917.18 L974.5 917.34 L975.6 917.51 L976.69 917.71 L977.79 917.92 L978.89 918.15 L979.99 918.4 L981.09 918.67 L982.18 918.97 L983.28 919.3 L984.38 919.67 L985.48 920.06 L986.58 920.49 L987.68 920.96 L988.77 921.48 L989.87 922.04 L990.97 922.66 L992.07 923.33 L993.17 924.06 L994.26 924.86 L995.36 925.73 L996.46 926.68 L997.56 927.71 L998.66 928.84 L999.75 930.06 L1000.85 931.39 L1001.95 932.83 L1003.05 934.4 L1004.15 936.09 L1005.25 937.93 L1006.34 939.92 L1007.44 942.07 L1008.54 944.38 L1009.64 946.88 L1010.74 949.56 L1011.83 952.45 L1012.93 955.54 L1014.03 958.84 L1015.13 962.37 L1016.23 966.14 L1017.32 970.14 L1018.42 974.38 L1019.52 978.87 L1020.62 983.6 L1021.72 988.58 L1022.82 993.8 L1023.91 999.26 L1025.01 1004.95 L1026.11 1010.86 L1027.21 1016.97 L1028.31 1023.27 L1029.4 1029.73 L1030.5 1036.35 L1031.6 1043.09 L1032.7 1049.93 L1033.8 1056.83 L1034.89 1063.78 L1035.99 1070.74 L1037.09 1077.69 L1038.19 1084.59 L1039.29 1091.41 L1040.38 1098.14 L1041.48 1104.74 L1042.58 1111.18 L1043.68 1117.46 L1044.78 1123.54 L1045.88 1129.42 L1046.97 1135.08 L1048.07 1140.51 L1049.17 1145.7 L1050.27 1150.65 L1051.37 1155.35 L1052.46 1159.8 L1053.56 1164.01 L1054.66 1167.98 L1055.76 1171.71 L1056.86 1175.21 L1057.95 1178.49 L1059.05 1181.55 L1060.15 1184.41 L1061.25 1187.07 L1062.35 1189.54 L1063.45 1191.83 L1064.54 1193.96 L1065.64 1195.92 L1066.74 1197.74 L1067.84 1199.42 L1068.94 1200.97 L1070.03 1202.4 L1071.13 1203.71 L1072.23 1204.92 L1073.33 1206.03 L1074.43 1207.06 L1075.52 1207.99 L1076.62 1208.85 L1077.72 1209.64 L1078.82 1210.37 L1079.92 1211.03 L1081.02 1211.64 L1082.11 1212.2 L1083.21 1212.71 L1084.31 1213.17 L1085.41 1213.6 L1086.51 1213.99 L1087.6 1214.34 L1088.7 1214.67 L1089.8 1214.97" fill="none" stroke="#606060" stroke-width="3.5" stroke-linecap="butt" stroke-linejoin="round"/>
<polygon points="915.2,911.26 907.1,927.46 923.3,927.46" fill="#000"/>
<polygon points="973.4,912.73 965.3,928.93 981.5,928.93" fill="#000"/>
<polygon points="1002.5,954.99 994.4,971.19 1010.6,971.19" fill="#000"/>
<polygon points="1031.6,1038.76 1023.5,1054.96 1039.7,1054.96" fill="#000"/>
<polygon points="1060.7,1219.54 1052.6,1235.74 1068.8,1235.74" fill="#000"/>
<polygon points="1089.8,1228.73 1081.7,1244.93 1097.9,1244.93" fill="#000"/>
<path d="M915.2 926.2 L916.3 926.2 L917.4 926.2 L918.49 926.2 L919.59 926.21 L920.69 926.21 L921.79 926.21 L922.89 926.21 L923.98 926.21 L925.08 926.21 L926.18 926.22 L927.28 926.22 L928.38 926.22 L929.48 926.22 L930.57 926.23 L931.67 926.23 L932.77 926.23 L933.87 926.24 L934.97 926.24 L936.06 926.25 L937.16 926.25 L938.26 926.26 L939.36 926.27 L940.46 926.27 L941.55 926.28 L942.65 926.29 L943.75 926.3 L944.85 926.31 L945.95 926.32 L947.05 926.34 L948.14 926.35 L949.24 926.37 L950.34 926.38 L951.44 926.4 L952.54 926.42 L953.63 926.45 L954.73 926.47 L955.83 926.5 L956.93 926.53 L958.03 926.56 L959.12 926.6 L960.22 926.64 L961.32 926.69 L962.42 926.74 L963.52 926.79 L964.62 926.85 L965.71 926.91 L966.81 926.98 L967.91 927.06 L969.01 927.15 L970.11 927.24 L971.2 927.35 L972.3 927.46 L973.4 927.58 L974.5 927.72 L975.6 927.87 L976.69 928.04 L977.79 928.22 L978.89 928.42 L979.99 928.63 L981.09 928.87 L982.18 929.14 L983.28 929.43 L984.38 929.74 L985.48 930.09 L986.58 930.47 L987.68 930.88 L988.77 931.34 L989.87 931.84 L990.97 932.39 L992.07 932.99 L993.17 933.65 L994.26 934.36 L995.36 935.15 L996.46 936.01 L997.56 936.95 L998.66 937.97 L999.75 939.09 L1000.85 940.31 L1001.95 941.64 L1003.05 943.09 L1004.15 944.66 L1005.25 946.38 L1006.34 948.24 L1007.44 950.25 L1008.54 952.44 L1009.64 954.81 L1010.74 957.37 L1011.83 960.13 L1012.93 963.1 L1014.03 966.3 L1015.13 969.73 L1016.23 973.41 L1017.32 977.35 L1018.42 981.55 L1019.52 986.01 L1020.62 990.75 L1021.72 995.77 L1022.82 1001.07 L1023.91 1006.64 L1025.01 1012.48 L1026.11 1018.59 L1027.21 1024.95 L1028.31 1031.56 L1029.4 1038.38 L1030.5 1045.41 L1031.6 1052.62 L1032.7 1059.98 L1033.8 1067.46 L1034.89 1075.04 L1035.99 1082.68 L1037.09 1090.35 L1038.19 1098.01 L1039.29 1105.63 L1040.38 1113.18 L1041.48 1120.62 L1042.58 1127.93 L1043.68 1135.08 L1044.78 1142.03 L1045.88 1148.78 L1046.97 1155.29 L1048.07 1161.56 L1049.17 1167.58 L1050.27 1173.32 L1051.37 1178.79 L1052.46 1183.98 L1053.56 1188.9 L1054.66 1193.54 L1055.76 1197.9 L1056.86 1202 L1057.95 1205.84 L1059.05 1209.43 L1060.15 1212.78 L1061.25 1215.89 L1062.35 1218.78 L1063.45 1221.47 L1064.54 1223.95 L1065.64 1226.25 L1066.74 1228.38 L1067.84 1230.33 L1068.94 1232.14 L1070.03 1233.8 L1071.13 1235.33 L1072.23 1236.73 L1073.33 1238.02 L1074.43 1239.2 L1075.52 1240.28 L1076.62 1241.27 L1077.72 1242.18 L1078.82 1243.01 L1079.92 1243.77 L1081.02 1244.47 L1082.11 1245.1 L1083.21 1245.68 L1084.31 1246.21 L1085.41 1246.7 L1086.51 1247.14 L1087.6 1247.54 L1088.7 1247.91 L1089.8 1248.24" fill="none" stroke="#000" stroke-width="4" stroke-linecap="butt" stroke-linejoin="round"/>
<line x1="1082.6" y1="914.4" x2="1126.2" y2="914.4" stroke="#606060" stroke-width="4.8" stroke-linecap="butt"/>
<circle cx="1104.4" cy="914.4" r="8" fill="#fff" stroke="#606060" stroke-width="6.2"/>
<line x1="1098.8" y1="914.4" x2="1110" y2="914.4" stroke="#606060" stroke-width="4.8" stroke-linecap="butt"/>
<text x="1150.5" y="925.3" font-size="33.4" font-weight="normal" text-anchor="start" fill="#000" textLength="256" lengthAdjust="spacingAndGlyphs">OSI-906 1% FBS</text>
<line x1="1082.6" y1="961.4" x2="1126.2" y2="961.4" stroke="#000" stroke-width="4.8" stroke-linecap="butt"/>
<polygon points="1104.4,953.3 1096.1,969.9 1112.7,969.9" fill="#000"/>
<text x="1150.5" y="972.7" font-size="33.4" font-weight="normal" text-anchor="start" fill="#000" textLength="256" lengthAdjust="spacingAndGlyphs">OSI-906 5% FBS</text>
<line x1="110.2" y1="821.45" x2="110.2" y2="1288.55" stroke="#000" stroke-width="4.5" stroke-linecap="butt"/>
<line x1="99.05" y1="1286.3" x2="109.6" y2="1286.3" stroke="#000" stroke-width="4.5" stroke-linecap="round"/>
<text x="0" y="0" font-size="30.4" font-weight="bold" text-anchor="end" fill="#000" transform="translate(95.1 1296.6) scale(1 1.08)">0</text>
<line x1="99.05" y1="1193.78" x2="109.6" y2="1193.78" stroke="#000" stroke-width="4.5" stroke-linecap="round"/>
<text x="0" y="0" font-size="30.4" font-weight="bold" text-anchor="end" fill="#000" transform="translate(95.1 1204.08) scale(1 1.08)">25</text>
<line x1="99.05" y1="1101.26" x2="109.6" y2="1101.26" stroke="#000" stroke-width="4.5" stroke-linecap="round"/>
<text x="0" y="0" font-size="30.4" font-weight="bold" text-anchor="end" fill="#000" transform="translate(95.1 1111.56) scale(1 1.08)">50</text>
<line x1="99.05" y1="1008.74" x2="109.6" y2="1008.74" stroke="#000" stroke-width="4.5" stroke-linecap="round"/>
<text x="0" y="0" font-size="30.4" font-weight="bold" text-anchor="end" fill="#000" transform="translate(95.1 1019.04) scale(1 1.08)">75</text>
<line x1="99.05" y1="916.22" x2="109.6" y2="916.22" stroke="#000" stroke-width="4.5" stroke-linecap="round"/>
<text x="0" y="0" font-size="30.4" font-weight="bold" text-anchor="end" fill="#000" transform="translate(95.1 926.52) scale(1 1.08)">100</text>
<line x1="99.05" y1="823.7" x2="109.6" y2="823.7" stroke="#000" stroke-width="4.5" stroke-linecap="round"/>
<text x="0" y="0" font-size="30.4" font-weight="bold" text-anchor="end" fill="#000" transform="translate(95.1 834) scale(1 1.08)">125</text>
<line x1="151.75" y1="1328.1" x2="355.65" y2="1328.1" stroke="#000" stroke-width="4.5" stroke-linecap="round"/>
<line x1="180.1" y1="1328.7" x2="180.1" y2="1338.35" stroke="#000" stroke-width="4.5" stroke-linecap="round"/>
<line x1="238.6" y1="1328.7" x2="238.6" y2="1338.35" stroke="#000" stroke-width="4.5" stroke-linecap="round"/>
<line x1="267.85" y1="1328.7" x2="267.85" y2="1338.35" stroke="#000" stroke-width="4.5" stroke-linecap="round"/>
<line x1="297.1" y1="1328.7" x2="297.1" y2="1338.35" stroke="#000" stroke-width="4.5" stroke-linecap="round"/>
<line x1="326.35" y1="1328.7" x2="326.35" y2="1338.35" stroke="#000" stroke-width="4.5" stroke-linecap="round"/>
<line x1="355.6" y1="1328.7" x2="355.6" y2="1338.35" stroke="#000" stroke-width="4.5" stroke-linecap="round"/>
<text x="0" y="0" font-size="31.2" font-weight="bold" text-anchor="middle" fill="#000" transform="translate(180.1 1372.6) scale(1 1.02)">C</text>
<text x="0" y="0" font-size="31.2" font-weight="bold" text-anchor="middle" fill="#000" transform="translate(238.6 1372.6) scale(1 1.02)">-9</text>
<text x="0" y="0" font-size="31.2" font-weight="bold" text-anchor="middle" fill="#000" transform="translate(267.85 1372.6) scale(1 1.02)">-8</text>
<text x="0" y="0" font-size="31.2" font-weight="bold" text-anchor="middle" fill="#000" transform="translate(297.1 1372.6) scale(1 1.02)">-7</text>
<text x="0" y="0" font-size="31.2" font-weight="bold" text-anchor="middle" fill="#000" transform="translate(326.35 1372.6) scale(1 1.02)">-6</text>
<text x="0" y="0" font-size="31.2" font-weight="bold" text-anchor="middle" fill="#000" transform="translate(355.6 1372.6) scale(1 1.02)">-5</text>
<text x="252.5" y="1437" font-size="41.3" font-weight="bold" text-anchor="middle" fill="#000">log [drug] (M)</text>
<text x="25.6" y="1055.3" font-size="34.5" font-weight="bold" text-anchor="middle" fill="#000" transform="rotate(-90 25.6 1055.3)">% of control</text>
<text x="0" y="0" font-size="58.5" font-weight="bold" text-anchor="start" fill="#000" transform="translate(-3 800) scale(1 1.04)">D</text>
<line x1="180.1" y1="916.22" x2="180.1" y2="897.35" stroke="#606060" stroke-width="5.8" stroke-linecap="butt"/>
<line x1="171.35" y1="897.35" x2="188.85" y2="897.35" stroke="#606060" stroke-width="4.8" stroke-linecap="round"/>
<line x1="180.1" y1="916.22" x2="180.1" y2="935.09" stroke="#606060" stroke-width="5.8" stroke-linecap="butt"/>
<line x1="171.35" y1="935.09" x2="188.85" y2="935.09" stroke="#606060" stroke-width="4.8" stroke-linecap="round"/>
<line x1="180.1" y1="914.37" x2="180.1" y2="904.38" stroke="#606060" stroke-width="5.8" stroke-linecap="butt"/>
<line x1="171.35" y1="904.38" x2="188.85" y2="904.38" stroke="#606060" stroke-width="4.8" stroke-linecap="round"/>
<line x1="238.6" y1="884.76" x2="238.6" y2="875.88" stroke="#606060" stroke-width="5.8" stroke-linecap="butt"/>
<line x1="229.85" y1="875.88" x2="247.35" y2="875.88" stroke="#606060" stroke-width="4.8" stroke-linecap="round"/>
<line x1="238.6" y1="884.76" x2="238.6" y2="893.65" stroke="#606060" stroke-width="5.8" stroke-linecap="butt"/>
<line x1="229.85" y1="893.65" x2="247.35" y2="893.65" stroke="#606060" stroke-width="4.8" stroke-linecap="round"/>
<line x1="238.6" y1="919.18" x2="238.6" y2="902.16" stroke="#606060" stroke-width="5.8" stroke-linecap="butt"/>
<line x1="229.85" y1="902.16" x2="247.35" y2="902.16" stroke="#606060" stroke-width="4.8" stroke-linecap="round"/>
<line x1="267.85" y1="972.47" x2="267.85" y2="961.37" stroke="#606060" stroke-width="5.8" stroke-linecap="butt"/>
<line x1="259.1" y1="961.37" x2="276.6" y2="961.37" stroke="#606060" stroke-width="4.8" stroke-linecap="round"/>
<line x1="267.85" y1="972.47" x2="267.85" y2="984.68" stroke="#606060" stroke-width="5.8" stroke-linecap="butt"/>
<line x1="259.1" y1="984.68" x2="276.6" y2="984.68" stroke="#606060" stroke-width="4.8" stroke-linecap="round"/>
<line x1="267.85" y1="931.39" x2="267.85" y2="909.93" stroke="#606060" stroke-width="5.8" stroke-linecap="butt"/>
<line x1="259.1" y1="909.93" x2="276.6" y2="909.93" stroke="#606060" stroke-width="4.8" stroke-linecap="round"/>
<line x1="297.1" y1="1037.98" x2="297.1" y2="1025.76" stroke="#606060" stroke-width="5.8" stroke-linecap="butt"/>
<line x1="288.35" y1="1025.76" x2="305.85" y2="1025.76" stroke="#606060" stroke-width="4.8" stroke-linecap="round"/>
<line x1="326.35" y1="1141.97" x2="326.35" y2="1132.72" stroke="#606060" stroke-width="5.8" stroke-linecap="butt"/>
<line x1="317.6" y1="1132.72" x2="335.1" y2="1132.72" stroke="#606060" stroke-width="4.8" stroke-linecap="round"/>
<line x1="297.1" y1="1201.55" x2="297.1" y2="1190.45" stroke="#606060" stroke-width="5.8" stroke-linecap="butt"/>
<line x1="288.35" y1="1190.45" x2="305.85" y2="1190.45" stroke="#606060" stroke-width="4.8" stroke-linecap="round"/>
<line x1="297.1" y1="1201.55" x2="297.1" y2="1213.76" stroke="#606060" stroke-width="5.8" stroke-linecap="butt"/>
<line x1="288.35" y1="1213.76" x2="305.85" y2="1213.76" stroke="#606060" stroke-width="4.8" stroke-linecap="round"/>
<circle cx="180.1" cy="916.22" r="7.3" fill="#fff" stroke="#606060" stroke-width="5.4"/>
<circle cx="238.6" cy="884.76" r="7.3" fill="#fff" stroke="#606060" stroke-width="5.4"/>
<circle cx="267.85" cy="972.47" r="7.3" fill="#fff" stroke="#606060" stroke-width="5.4"/>
<circle cx="297.1" cy="1201.55" r="7.3" fill="#fff" stroke="#606060" stroke-width="5.4"/>
<circle cx="326.35" cy="1258.91" r="7.3" fill="#fff" stroke="#606060" stroke-width="5.4"/>
<circle cx="355.6" cy="1250.03" r="7.3" fill="#fff" stroke="#606060" stroke-width="5.4"/>
<path d="M180.1 890.7 L181.2 890.71 L182.31 890.73 L183.41 890.74 L184.52 890.76 L185.62 890.77 L186.72 890.79 L187.83 890.81 L188.93 890.84 L190.03 890.86 L191.14 890.89 L192.24 890.92 L193.35 890.95 L194.45 890.98 L195.55 891.02 L196.66 891.06 L197.76 891.11 L198.86 891.15 L199.97 891.21 L201.07 891.26 L202.18 891.33 L203.28 891.4 L204.38 891.47 L205.49 891.55 L206.59 891.64 L207.69 891.74 L208.8 891.84 L209.9 891.95 L211.01 892.08 L212.11 892.21 L213.21 892.36 L214.32 892.52 L215.42 892.7 L216.52 892.89 L217.63 893.09 L218.73 893.32 L219.84 893.56 L220.94 893.83 L222.04 894.12 L223.15 894.44 L224.25 894.78 L225.35 895.15 L226.46 895.56 L227.56 896 L228.67 896.48 L229.77 897 L230.87 897.56 L231.98 898.18 L233.08 898.85 L234.18 899.57 L235.29 900.36 L236.39 901.21 L237.5 902.13 L238.6 903.14 L239.7 904.22 L240.81 905.4 L241.91 906.67 L243.02 908.05 L244.12 909.53 L245.22 911.14 L246.33 912.87 L247.43 914.74 L248.53 916.76 L249.64 918.93 L250.74 921.26 L251.85 923.77 L252.95 926.46 L254.05 929.34 L255.16 932.43 L256.26 935.73 L257.36 939.25 L258.47 943 L259.57 947 L260.68 951.23 L261.78 955.73 L262.88 960.48 L263.99 965.49 L265.09 970.77 L266.19 976.32 L267.3 982.12 L268.4 988.19 L269.51 994.52 L270.61 1001.09 L271.71 1007.9 L272.82 1014.93 L273.92 1022.17 L275.02 1029.59 L276.13 1037.18 L277.23 1044.92 L278.34 1052.77 L279.44 1060.72 L280.54 1068.73 L281.65 1076.77 L282.75 1084.82 L283.85 1092.85 L284.96 1100.83 L286.06 1108.72 L287.17 1116.5 L288.27 1124.15 L289.37 1131.64 L290.48 1138.95 L291.58 1146.06 L292.68 1152.95 L293.79 1159.62 L294.89 1166.04 L296 1172.2 L297.1 1178.11 L298.2 1183.76 L299.31 1189.14 L300.41 1194.25 L301.52 1199.1 L302.62 1203.69 L303.72 1208.02 L304.83 1212.11 L305.93 1215.95 L307.03 1219.56 L308.14 1222.94 L309.24 1226.11 L310.35 1229.07 L311.45 1231.83 L312.55 1234.4 L313.66 1236.8 L314.76 1239.03 L315.86 1241.11 L316.97 1243.03 L318.07 1244.81 L319.18 1246.47 L320.28 1248 L321.38 1249.42 L322.49 1250.73 L323.59 1251.94 L324.69 1253.06 L325.8 1254.09 L326.9 1255.04 L328.01 1255.92 L329.11 1256.73 L330.21 1257.48 L331.32 1258.17 L332.42 1258.8 L333.52 1259.39 L334.63 1259.92 L335.73 1260.42 L336.84 1260.87 L337.94 1261.29 L339.04 1261.68 L340.15 1262.03 L341.25 1262.36 L342.35 1262.66 L343.46 1262.93 L344.56 1263.18 L345.67 1263.42 L346.77 1263.63 L347.87 1263.83 L348.98 1264.01 L350.08 1264.17 L351.18 1264.32 L352.29 1264.46 L353.39 1264.59 L354.5 1264.71 L355.6 1264.82" fill="none" stroke="#606060" stroke-width="3.5" stroke-linecap="round" stroke-linejoin="round"/>
<polygon points="180.1,906.27 172,922.47 188.2,922.47" fill="#000"/>
<polygon points="238.6,911.08 230.5,927.28 246.7,927.28" fill="#000"/>
<polygon points="267.85,923.29 259.75,939.49 275.95,939.49" fill="#000"/>
<polygon points="297.1,1029.88 289,1046.08 305.2,1046.08" fill="#000"/>
<polygon points="326.35,1133.87 318.25,1150.07 334.45,1150.07" fill="#000"/>
<polygon points="355.6,1158.66 347.5,1174.86 363.7,1174.86" fill="#000"/>
<path d="M180.1 914.1 L181.2 914.1 L182.31 914.1 L183.41 914.11 L184.52 914.11 L185.62 914.11 L186.72 914.11 L187.83 914.11 L188.93 914.12 L190.03 914.12 L191.14 914.12 L192.24 914.13 L193.35 914.13 L194.45 914.13 L195.55 914.14 L196.66 914.14 L197.76 914.15 L198.86 914.15 L199.97 914.16 L201.07 914.17 L202.18 914.17 L203.28 914.18 L204.38 914.19 L205.49 914.2 L206.59 914.21 L207.69 914.22 L208.8 914.24 L209.9 914.25 L211.01 914.27 L212.11 914.28 L213.21 914.3 L214.32 914.32 L215.42 914.35 L216.52 914.37 L217.63 914.4 L218.73 914.43 L219.84 914.46 L220.94 914.5 L222.04 914.54 L223.15 914.58 L224.25 914.63 L225.35 914.68 L226.46 914.74 L227.56 914.81 L228.67 914.87 L229.77 914.95 L230.87 915.03 L231.98 915.13 L233.08 915.23 L234.18 915.34 L235.29 915.46 L236.39 915.59 L237.5 915.73 L238.6 915.89 L239.7 916.06 L240.81 916.25 L241.91 916.46 L243.02 916.69 L244.12 916.94 L245.22 917.21 L246.33 917.51 L247.43 917.84 L248.53 918.2 L249.64 918.59 L250.74 919.02 L251.85 919.48 L252.95 920 L254.05 920.55 L255.16 921.16 L256.26 921.83 L257.36 922.56 L258.47 923.35 L259.57 924.21 L260.68 925.15 L261.78 926.17 L262.88 927.28 L263.99 928.49 L265.09 929.8 L266.19 931.22 L267.3 932.76 L268.4 934.43 L269.51 936.23 L270.61 938.17 L271.71 940.26 L272.82 942.52 L273.92 944.94 L275.02 947.53 L276.13 950.31 L277.23 953.28 L278.34 956.45 L279.44 959.81 L280.54 963.38 L281.65 967.16 L282.75 971.14 L283.85 975.33 L284.96 979.72 L286.06 984.32 L287.17 989.1 L288.27 994.07 L289.37 999.21 L290.48 1004.5 L291.58 1009.94 L292.68 1015.5 L293.79 1021.15 L294.89 1026.89 L296 1032.68 L297.1 1038.51 L298.2 1044.34 L299.31 1050.15 L300.41 1055.92 L301.52 1061.62 L302.62 1067.23 L303.72 1072.73 L304.83 1078.1 L305.93 1083.32 L307.03 1088.38 L308.14 1093.26 L309.24 1097.95 L310.35 1102.45 L311.45 1106.74 L312.55 1110.83 L313.66 1114.72 L314.76 1118.39 L315.86 1121.86 L316.97 1125.13 L318.07 1128.2 L319.18 1131.07 L320.28 1133.76 L321.38 1136.27 L322.49 1138.61 L323.59 1140.79 L324.69 1142.81 L325.8 1144.68 L326.9 1146.41 L328.01 1148.02 L329.11 1149.5 L330.21 1150.86 L331.32 1152.12 L332.42 1153.28 L333.52 1154.35 L334.63 1155.33 L335.73 1156.23 L336.84 1157.06 L337.94 1157.82 L339.04 1158.51 L340.15 1159.15 L341.25 1159.74 L342.35 1160.27 L343.46 1160.76 L344.56 1161.21 L345.67 1161.62 L346.77 1162 L347.87 1162.34 L348.98 1162.65 L350.08 1162.94 L351.18 1163.2 L352.29 1163.44 L353.39 1163.66 L354.5 1163.86 L355.6 1164.04" fill="none" stroke="#000" stroke-width="4.1" stroke-linecap="round" stroke-linejoin="round"/>
<line x1="354.3" y1="931.6" x2="398.3" y2="931.6" stroke="#000" stroke-width="4.8" stroke-linecap="butt"/>
<polygon points="376.3,923.5 368,940.1 384.6,940.1" fill="#000"/>
<text x="423" y="942" font-size="34.1" font-weight="normal" text-anchor="start" fill="#000" textLength="236.9" lengthAdjust="spacingAndGlyphs">OSI-906 3 days</text>
<line x1="354.3" y1="972.7" x2="398.3" y2="972.7" stroke="#606060" stroke-width="4.8" stroke-linecap="butt"/>
<circle cx="376.3" cy="972.7" r="7" fill="#fff" stroke="#606060" stroke-width="6"/>
<line x1="370.7" y1="972.7" x2="381.9" y2="972.7" stroke="#606060" stroke-width="4.8" stroke-linecap="butt"/>
<text x="423" y="983.4" font-size="34.1" font-weight="normal" text-anchor="start" fill="#000" textLength="236.9" lengthAdjust="spacingAndGlyphs">OSI-906 6 days</text>
<line x1="1517.5" y1="154.7" x2="1517.5" y2="302.2" stroke="#000" stroke-width="3.4" stroke-linecap="butt"/>
<line x1="1517.5" y1="322.2" x2="1517.5" y2="583.3" stroke="#000" stroke-width="3.4" stroke-linecap="butt"/>
<line x1="1508.9" y1="156.4" x2="1517.5" y2="156.4" stroke="#000" stroke-width="3.4" stroke-linecap="butt"/>
<text x="0" y="0" font-size="23.3" font-weight="bold" text-anchor="end" fill="#000" transform="translate(1505.6 164.84) scale(1 1.06)">1000</text>
<line x1="1508.9" y1="204.43" x2="1517.5" y2="204.43" stroke="#000" stroke-width="3.4" stroke-linecap="butt"/>
<text x="0" y="0" font-size="23.3" font-weight="bold" text-anchor="end" fill="#000" transform="translate(1505.6 212.87) scale(1 1.06)">800</text>
<line x1="1508.9" y1="252.47" x2="1517.5" y2="252.47" stroke="#000" stroke-width="3.4" stroke-linecap="butt"/>
<text x="0" y="0" font-size="23.3" font-weight="bold" text-anchor="end" fill="#000" transform="translate(1505.6 260.91) scale(1 1.06)">600</text>
<line x1="1508.9" y1="300.5" x2="1525.1" y2="300.5" stroke="#000" stroke-width="3.4" stroke-linecap="butt"/>
<text x="0" y="0" font-size="23.3" font-weight="bold" text-anchor="end" fill="#000" transform="translate(1505.6 308.94) scale(1 1.06)">400</text>
<line x1="1508.9" y1="323.9" x2="1525.1" y2="323.9" stroke="#000" stroke-width="3.4" stroke-linecap="butt"/>
<text x="0" y="0" font-size="23.3" font-weight="bold" text-anchor="end" fill="#000" transform="translate(1505.6 332.34) scale(1 1.06)">200</text>
<line x1="1508.9" y1="388.32" x2="1517.5" y2="388.32" stroke="#000" stroke-width="3.4" stroke-linecap="butt"/>
<text x="0" y="0" font-size="23.3" font-weight="bold" text-anchor="end" fill="#000" transform="translate(1505.6 396.77) scale(1 1.06)">150</text>
<line x1="1508.9" y1="452.75" x2="1517.5" y2="452.75" stroke="#000" stroke-width="3.4" stroke-linecap="butt"/>
<text x="0" y="0" font-size="23.3" font-weight="bold" text-anchor="end" fill="#000" transform="translate(1505.6 461.19) scale(1 1.06)">100</text>
<line x1="1508.9" y1="517.17" x2="1517.5" y2="517.17" stroke="#000" stroke-width="3.4" stroke-linecap="butt"/>
<text x="0" y="0" font-size="23.3" font-weight="bold" text-anchor="end" fill="#000" transform="translate(1505.6 525.62) scale(1 1.06)">50</text>
<line x1="1508.9" y1="581.6" x2="1517.5" y2="581.6" stroke="#000" stroke-width="3.4" stroke-linecap="butt"/>
<text x="0" y="0" font-size="23.3" font-weight="bold" text-anchor="end" fill="#000" transform="translate(1505.6 590.04) scale(1 1.06)">0</text>
<line x1="1517.5" y1="581.6" x2="1986" y2="581.6" stroke="#000" stroke-width="3.4" stroke-linecap="butt"/>
<line x1="1556.4" y1="581.6" x2="1556.4" y2="590.6" stroke="#000" stroke-width="3.4" stroke-linecap="butt"/>
<line x1="1634.3" y1="581.6" x2="1634.3" y2="590.6" stroke="#000" stroke-width="3.4" stroke-linecap="butt"/>
<line x1="1712.2" y1="581.6" x2="1712.2" y2="590.6" stroke="#000" stroke-width="3.4" stroke-linecap="butt"/>
<line x1="1790" y1="581.6" x2="1790" y2="590.6" stroke="#000" stroke-width="3.4" stroke-linecap="butt"/>
<line x1="1868" y1="581.6" x2="1868" y2="590.6" stroke="#000" stroke-width="3.4" stroke-linecap="butt"/>
<line x1="1945.9" y1="581.6" x2="1945.9" y2="590.6" stroke="#000" stroke-width="3.4" stroke-linecap="butt"/>
<text x="0" y="0" font-size="23.6" font-weight="bold" text-anchor="end" fill="#000" transform="translate(1565.1 611.5) rotate(-45) scale(1 1)">Control</text>
<text x="0" y="0" font-size="23.6" font-weight="bold" text-anchor="end" fill="#000" transform="translate(1643 611.5) rotate(-45) scale(1 1.04)">-5</text>
<text x="0" y="0" font-size="23.6" font-weight="bold" text-anchor="end" fill="#000" transform="translate(1720.9 611.5) rotate(-45) scale(1 1.04)">-6</text>
<text x="0" y="0" font-size="23.6" font-weight="bold" text-anchor="end" fill="#000" transform="translate(1798.7 611.5) rotate(-45) scale(1 1.04)">-7</text>
<text x="0" y="0" font-size="23.6" font-weight="bold" text-anchor="end" fill="#000" transform="translate(1876.7 611.5) rotate(-45) scale(1 1.04)">-8</text>
<text x="0" y="0" font-size="23.6" font-weight="bold" text-anchor="end" fill="#000" transform="translate(1954.6 611.5) rotate(-45) scale(1 1.04)">-9</text>
<text x="1751.1" y="696" font-size="38.3" font-weight="bold" text-anchor="middle" fill="#000">log [drug] (M)</text>
<text x="1441" y="368.9" font-size="26" font-weight="bold" text-anchor="middle" fill="#000" transform="rotate(-90 1441 368.9)">% of control</text>
<text x="0" y="0" font-size="58.5" font-weight="bold" text-anchor="start" fill="#000" transform="translate(1411.5 43.4) scale(0.97 1.04)">C</text>
<line x1="1556.4" y1="452.75" x2="1556.4" y2="451.46" stroke="#000" stroke-width="4.8" stroke-linecap="butt"/>
<line x1="1543.5" y1="451.46" x2="1569.3" y2="451.46" stroke="#000" stroke-width="4.8" stroke-linecap="butt"/>
<path d="M1530.5 581.6 L1530.5 452.75 L1582.3 452.75 L1582.3 581.6" fill="none" stroke="#000" stroke-width="4.8" stroke-linecap="butt" stroke-linejoin="miter"/>
<line x1="1634.3" y1="199.87" x2="1634.3" y2="169.61" stroke="#000" stroke-width="4.8" stroke-linecap="butt"/>
<line x1="1621.4" y1="169.61" x2="1647.2" y2="169.61" stroke="#000" stroke-width="4.8" stroke-linecap="butt"/>
<path d="M1608.4 300.5 L1608.4 199.87 L1660.2 199.87 L1660.2 300.5" fill="none" stroke="#000" stroke-width="4.8" stroke-linecap="butt" stroke-linejoin="miter"/>
<line x1="1608.4" y1="324.3" x2="1608.4" y2="581.6" stroke="#000" stroke-width="4.8" stroke-linecap="butt"/>
<line x1="1660.2" y1="324.3" x2="1660.2" y2="581.6" stroke="#000" stroke-width="4.8" stroke-linecap="butt"/>
<line x1="1712.2" y1="267.24" x2="1712.2" y2="254.03" stroke="#000" stroke-width="4.8" stroke-linecap="butt"/>
<line x1="1699.3" y1="254.03" x2="1725.1" y2="254.03" stroke="#000" stroke-width="4.8" stroke-linecap="butt"/>
<path d="M1686.3 300.5 L1686.3 267.24 L1738.1 267.24 L1738.1 300.5" fill="none" stroke="#000" stroke-width="4.8" stroke-linecap="butt" stroke-linejoin="miter"/>
<line x1="1686.3" y1="324.3" x2="1686.3" y2="581.6" stroke="#000" stroke-width="4.8" stroke-linecap="butt"/>
<line x1="1738.1" y1="324.3" x2="1738.1" y2="581.6" stroke="#000" stroke-width="4.8" stroke-linecap="butt"/>
<line x1="1790" y1="421.05" x2="1790" y2="411.78" stroke="#000" stroke-width="4.8" stroke-linecap="butt"/>
<line x1="1777.1" y1="411.78" x2="1802.9" y2="411.78" stroke="#000" stroke-width="4.8" stroke-linecap="butt"/>
<path d="M1764.1 581.6 L1764.1 421.05 L1815.9 421.05 L1815.9 581.6" fill="none" stroke="#000" stroke-width="4.8" stroke-linecap="butt" stroke-linejoin="miter"/>
<line x1="1868" y1="407.65" x2="1868" y2="382.78" stroke="#000" stroke-width="4.8" stroke-linecap="butt"/>
<line x1="1855.1" y1="382.78" x2="1880.9" y2="382.78" stroke="#000" stroke-width="4.8" stroke-linecap="butt"/>
<path d="M1842.1 581.6 L1842.1 407.65 L1893.9 407.65 L1893.9 581.6" fill="none" stroke="#000" stroke-width="4.8" stroke-linecap="butt" stroke-linejoin="miter"/>
<line x1="1945.9" y1="439.48" x2="1945.9" y2="427.62" stroke="#000" stroke-width="4.8" stroke-linecap="butt"/>
<line x1="1933" y1="427.62" x2="1958.8" y2="427.62" stroke="#000" stroke-width="4.8" stroke-linecap="butt"/>
<path d="M1920 581.6 L1920 439.48 L1971.8 439.48 L1971.8 581.6" fill="none" stroke="#000" stroke-width="4.8" stroke-linecap="butt" stroke-linejoin="miter"/>
<line x1="1555" y1="129" x2="1712.2" y2="129" stroke="#000" stroke-width="4.8" stroke-linecap="butt"/>
<line x1="1557.3" y1="115.3" x2="1557.3" y2="170.5" stroke="#000" stroke-width="4.8" stroke-linecap="butt"/>
<line x1="1709.8" y1="115.3" x2="1709.8" y2="143.3" stroke="#000" stroke-width="4.8" stroke-linecap="butt"/>
<text x="1632" y="131.7" font-size="27" font-weight="bold" text-anchor="middle" fill="#000">***</text>
<line x1="1555" y1="156.8" x2="1631.2" y2="156.8" stroke="#000" stroke-width="4.8" stroke-linecap="butt"/>
<line x1="1628.8" y1="142.9" x2="1628.8" y2="169.5" stroke="#000" stroke-width="4.8" stroke-linecap="butt"/>
<text x="1593" y="159.2" font-size="27" font-weight="bold" text-anchor="middle" fill="#000">***</text>
<line x1="1518.9" y1="866.15" x2="1518.9" y2="1025.95" stroke="#000" stroke-width="4.1" stroke-linecap="butt"/>
<line x1="1518.9" y1="1047.35" x2="1518.9" y2="1329.05" stroke="#000" stroke-width="4.1" stroke-linecap="butt"/>
<line x1="1509.85" y1="868.2" x2="1518.3" y2="868.2" stroke="#000" stroke-width="4.1" stroke-linecap="round"/>
<text x="0" y="0" font-size="24.3" font-weight="bold" text-anchor="end" fill="#000" transform="translate(1506.5 877.8) scale(1 1.08)">1000</text>
<line x1="1509.85" y1="920.1" x2="1518.3" y2="920.1" stroke="#000" stroke-width="4.1" stroke-linecap="round"/>
<text x="0" y="0" font-size="24.3" font-weight="bold" text-anchor="end" fill="#000" transform="translate(1506.5 929.7) scale(1 1.08)">800</text>
<line x1="1509.85" y1="972" x2="1518.3" y2="972" stroke="#000" stroke-width="4.1" stroke-linecap="round"/>
<text x="0" y="0" font-size="24.3" font-weight="bold" text-anchor="end" fill="#000" transform="translate(1506.5 981.6) scale(1 1.08)">600</text>
<line x1="1509.85" y1="1023.9" x2="1524.05" y2="1023.9" stroke="#000" stroke-width="4.1" stroke-linecap="round"/>
<text x="0" y="0" font-size="24.3" font-weight="bold" text-anchor="end" fill="#000" transform="translate(1506.5 1033.5) scale(1 1.08)">400</text>
<line x1="1509.85" y1="1049.4" x2="1524.05" y2="1049.4" stroke="#000" stroke-width="4.1" stroke-linecap="round"/>
<text x="0" y="0" font-size="24.3" font-weight="bold" text-anchor="end" fill="#000" transform="translate(1506.5 1059) scale(1 1.08)">200</text>
<line x1="1509.85" y1="1118.8" x2="1518.3" y2="1118.8" stroke="#000" stroke-width="4.1" stroke-linecap="round"/>
<text x="0" y="0" font-size="24.3" font-weight="bold" text-anchor="end" fill="#000" transform="translate(1506.5 1128.4) scale(1 1.08)">150</text>
<line x1="1509.85" y1="1188.2" x2="1518.3" y2="1188.2" stroke="#000" stroke-width="4.1" stroke-linecap="round"/>
<text x="0" y="0" font-size="24.3" font-weight="bold" text-anchor="end" fill="#000" transform="translate(1506.5 1197.8) scale(1 1.08)">100</text>
<line x1="1509.85" y1="1257.6" x2="1518.3" y2="1257.6" stroke="#000" stroke-width="4.1" stroke-linecap="round"/>
<text x="0" y="0" font-size="24.3" font-weight="bold" text-anchor="end" fill="#000" transform="translate(1506.5 1267.2) scale(1 1.08)">50</text>
<line x1="1509.85" y1="1327" x2="1518.3" y2="1327" stroke="#000" stroke-width="4.1" stroke-linecap="round"/>
<text x="0" y="0" font-size="24.3" font-weight="bold" text-anchor="end" fill="#000" transform="translate(1506.5 1336.6) scale(1 1.08)">0</text>
<line x1="1518.9" y1="1327" x2="2024.45" y2="1327" stroke="#000" stroke-width="4.1" stroke-linecap="round"/>
<line x1="1560.6" y1="1327.6" x2="1560.6" y2="1335.15" stroke="#000" stroke-width="4.1" stroke-linecap="round"/>
<line x1="1644.9" y1="1327.6" x2="1644.9" y2="1335.15" stroke="#000" stroke-width="4.1" stroke-linecap="round"/>
<line x1="1729" y1="1327.6" x2="1729" y2="1335.15" stroke="#000" stroke-width="4.1" stroke-linecap="round"/>
<line x1="1813.1" y1="1327.6" x2="1813.1" y2="1335.15" stroke="#000" stroke-width="4.1" stroke-linecap="round"/>
<line x1="1897.3" y1="1327.6" x2="1897.3" y2="1335.15" stroke="#000" stroke-width="4.1" stroke-linecap="round"/>
<line x1="1981.4" y1="1327.6" x2="1981.4" y2="1335.15" stroke="#000" stroke-width="4.1" stroke-linecap="round"/>
<text x="0" y="0" font-size="25.6" font-weight="bold" text-anchor="end" fill="#000" transform="translate(1570 1362.3) rotate(-45) scale(1 1)">Control</text>
<text x="0" y="0" font-size="25.6" font-weight="bold" text-anchor="end" fill="#000" transform="translate(1654.3 1362.3) rotate(-45) scale(1 1.04)">-5</text>
<text x="0" y="0" font-size="25.6" font-weight="bold" text-anchor="end" fill="#000" transform="translate(1738.4 1362.3) rotate(-45) scale(1 1.04)">-6</text>
<text x="0" y="0" font-size="25.6" font-weight="bold" text-anchor="end" fill="#000" transform="translate(1822.5 1362.3) rotate(-45) scale(1 1.04)">-7</text>
<text x="0" y="0" font-size="25.6" font-weight="bold" text-anchor="end" fill="#000" transform="translate(1906.7 1362.3) rotate(-45) scale(1 1.04)">-8</text>
<text x="0" y="0" font-size="25.6" font-weight="bold" text-anchor="end" fill="#000" transform="translate(1990.8 1362.3) rotate(-45) scale(1 1.04)">-9</text>
<text x="1756.8" y="1437.1" font-size="41.3" font-weight="bold" text-anchor="middle" fill="#000">log [drug] (M)</text>
<text x="1434.8" y="1097" font-size="28.1" font-weight="bold" text-anchor="middle" fill="#000" transform="rotate(-90 1434.8 1097)">% of control</text>
<text x="0" y="0" font-size="58.5" font-weight="bold" text-anchor="start" fill="#000" transform="translate(1409.5 800.3) scale(0.98 1.04)">F</text>
<line x1="1560.6" y1="1188.2" x2="1560.6" y2="1184.73" stroke="#000" stroke-width="5" stroke-linecap="butt"/>
<line x1="1546.85" y1="1184.73" x2="1574.35" y2="1184.73" stroke="#000" stroke-width="5" stroke-linecap="round"/>
<path d="M1532.85 1327 L1532.85 1188.2 L1588.35 1188.2 L1588.35 1327" fill="none" stroke="#000" stroke-width="5" stroke-linecap="butt" stroke-linejoin="round"/>
<line x1="1644.9" y1="980.64" x2="1644.9" y2="966.11" stroke="#000" stroke-width="5" stroke-linecap="butt"/>
<line x1="1631.15" y1="966.11" x2="1658.65" y2="966.11" stroke="#000" stroke-width="5" stroke-linecap="round"/>
<path d="M1617.15 1023.9 L1617.15 980.64 L1672.65 980.64 L1672.65 1023.9" fill="none" stroke="#000" stroke-width="5" stroke-linecap="butt" stroke-linejoin="round"/>
<line x1="1617.15" y1="1049.8" x2="1617.15" y2="1327" stroke="#000" stroke-width="5" stroke-linecap="butt"/>
<line x1="1672.65" y1="1049.8" x2="1672.65" y2="1327" stroke="#000" stroke-width="5" stroke-linecap="butt"/>
<line x1="1729" y1="1011.44" x2="1729" y2="1000.54" stroke="#000" stroke-width="5" stroke-linecap="butt"/>
<line x1="1715.25" y1="1000.54" x2="1742.75" y2="1000.54" stroke="#000" stroke-width="5" stroke-linecap="round"/>
<path d="M1701.25 1023.9 L1701.25 1011.44 L1756.75 1011.44 L1756.75 1023.9" fill="none" stroke="#000" stroke-width="5" stroke-linecap="butt" stroke-linejoin="round"/>
<line x1="1701.25" y1="1049.8" x2="1701.25" y2="1327" stroke="#000" stroke-width="5" stroke-linecap="butt"/>
<line x1="1756.75" y1="1049.8" x2="1756.75" y2="1327" stroke="#000" stroke-width="5" stroke-linecap="butt"/>
<line x1="1813.1" y1="1068" x2="1813.1" y2="1053.7" stroke="#000" stroke-width="5" stroke-linecap="butt"/>
<line x1="1799.35" y1="1053.7" x2="1826.85" y2="1053.7" stroke="#000" stroke-width="5" stroke-linecap="round"/>
<path d="M1785.35 1327 L1785.35 1068 L1840.85 1068 L1840.85 1327" fill="none" stroke="#000" stroke-width="5" stroke-linecap="butt" stroke-linejoin="round"/>
<line x1="1897.3" y1="1141.84" x2="1897.3" y2="1119.49" stroke="#000" stroke-width="5" stroke-linecap="butt"/>
<line x1="1883.55" y1="1119.49" x2="1911.05" y2="1119.49" stroke="#000" stroke-width="5" stroke-linecap="round"/>
<path d="M1869.55 1327 L1869.55 1141.84 L1925.05 1141.84 L1925.05 1327" fill="none" stroke="#000" stroke-width="5" stroke-linecap="butt" stroke-linejoin="round"/>
<line x1="1981.4" y1="1172.93" x2="1981.4" y2="1161.97" stroke="#000" stroke-width="5" stroke-linecap="butt"/>
<line x1="1967.65" y1="1161.97" x2="1995.15" y2="1161.97" stroke="#000" stroke-width="5" stroke-linecap="round"/>
<path d="M1953.65 1327 L1953.65 1172.93 L2009.15 1172.93 L2009.15 1327" fill="none" stroke="#000" stroke-width="5" stroke-linecap="butt" stroke-linejoin="round"/>
<line x1="1570.1" y1="880.7" x2="1735.1" y2="880.7" stroke="#000" stroke-width="5.2" stroke-linecap="butt"/>
<line x1="1570.1" y1="871.6" x2="1570.1" y2="889.5" stroke="#000" stroke-width="5.2" stroke-linecap="round"/>
<line x1="1735.1" y1="871.6" x2="1735.1" y2="889.5" stroke="#000" stroke-width="5.2" stroke-linecap="round"/>
<text x="1651.5" y="885.1" font-size="30" font-weight="bold" text-anchor="middle" fill="#000">***</text>
<line x1="1570.1" y1="911.2" x2="1647.5" y2="911.2" stroke="#000" stroke-width="5.2" stroke-linecap="butt"/>
<line x1="1570.1" y1="901.9" x2="1570.1" y2="920" stroke="#000" stroke-width="5.2" stroke-linecap="round"/>
<line x1="1647.5" y1="901.9" x2="1647.5" y2="920" stroke="#000" stroke-width="5.2" stroke-linecap="round"/>
<text x="1609.1" y="916.2" font-size="30" font-weight="bold" text-anchor="middle" fill="#000">***</text>
</svg>
</body></html>
